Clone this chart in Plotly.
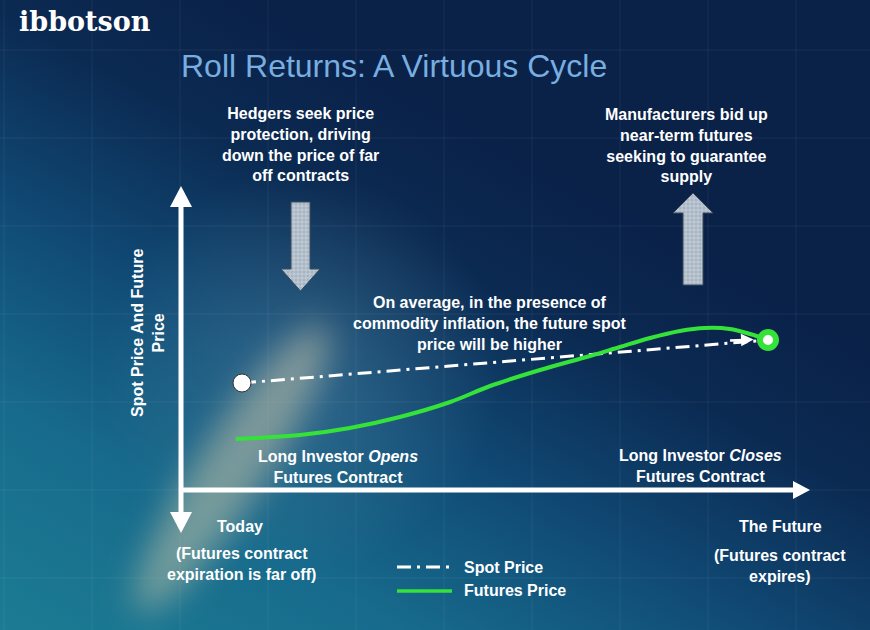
import base64
import plotly.graph_objects as go

# ---------------- data (conceptual chart) ----------------
# time in months from "Today" (0) to contract expiry (12); price in arbitrary units
spot_time = [0, 12]
spot_price = [53.5, 75]
fut_time = [-0.14, 1.32, 2.46, 3.60, 4.75, 5.66, 6.80, 7.94, 8.62, 9.31, 9.99, 10.56, 11.13, 11.59, 12]
fut_price = [25.5, 27.5, 31, 36.5, 44, 52, 60, 67, 71.5, 76, 79.5, 81, 80.5, 78, 75]
series_names = ["Spot Price", "Futures Price"]

W, H = 870, 630
X_RANGE = [-5.521, 14.327]
Y_RANGE = [-70, 245]

FONT = "Liberation Sans, Arial, sans-serif"
GREEN = "#35e23a"
WHITE = "#ffffff"

# ---------------- background (SVG data URI) ----------------
grid = "".join(
    f'<line x1="{x}" y1="0" x2="{x}" y2="630" stroke="#ffffff" stroke-opacity="0.03" stroke-width="2"/>'
    for x in range(4, 870, 88)
) + "".join(
    f'<line x1="0" y1="{y}" x2="870" y2="{y}" stroke="#ffffff" stroke-opacity="0.03" stroke-width="2"/>'
    for y in range(50, 630, 88)
)
svg = f'''<svg xmlns="http://www.w3.org/2000/svg" width="870" height="630" viewBox="0 0 870 630">
<defs>
<linearGradient id="g1" gradientUnits="userSpaceOnUse" x1="0" y1="630" x2="330" y2="40">
<stop offset="0" stop-color="#1c7c93"/>
<stop offset="0.3" stop-color="#176a8c"/>
<stop offset="0.55" stop-color="#104a75"/>
<stop offset="0.8" stop-color="#0b2a52"/>
<stop offset="1" stop-color="#0a2148"/>
</linearGradient>
<radialGradient id="g2" cx="300" cy="370" r="200" gradientUnits="userSpaceOnUse">
<stop offset="0" stop-color="#7aa8bb" stop-opacity="0.3"/>
<stop offset="1" stop-color="#7aa8bb" stop-opacity="0"/>
</radialGradient>
<filter id="b" x="-50%" y="-50%" width="200%" height="200%"><feGaussianBlur stdDeviation="16"/></filter>
</defs>
<rect width="870" height="630" fill="#0a2148"/>
<rect width="870" height="630" fill="url(#g1)"/>
<rect width="870" height="630" fill="url(#g2)"/>
{grid}
<ellipse cx="232" cy="468" rx="170" ry="34" fill="#cfc9aa" fill-opacity="0.5" filter="url(#b)" transform="rotate(-57 232 468)"/>
</svg>'''
bg_uri = "data:image/svg+xml;base64," + base64.b64encode(svg.encode()).decode()

fig = go.Figure()

# ---------------- data traces ----------------
fig.add_trace(go.Scatter(
    x=spot_time, y=spot_price, mode="lines", name=series_names[0],
    line=dict(color=WHITE, width=3, dash="14px,6px,3px,6px"), showlegend=False,
))
fig.add_trace(go.Scatter(
    x=fut_time, y=fut_price, mode="lines", name=series_names[1],
    line=dict(color=GREEN, width=4, shape="spline", smoothing=1.0), showlegend=False,
))
fig.add_trace(go.Scatter(
    x=[spot_time[0]], y=[spot_price[0]], mode="markers", showlegend=False,
    marker=dict(size=18, color=WHITE, line=dict(color="#333333", width=1)),
))
fig.add_trace(go.Scatter(
    x=[spot_time[-1]], y=[spot_price[-1]], mode="markers", showlegend=False,
    marker=dict(size=16, color=WHITE, line=dict(color=GREEN, width=6)),
))

# ---------------- hatched block arrows (pixel overlay axes) ----------------
down_arrow = ([291, 310, 310, 320, 300.5, 281, 291, 291], [202, 202, 269, 269, 291, 269, 269, 202])
up_arrow = ([683, 703, 703, 713, 693, 673, 683, 683], [285, 285, 213, 213, 193, 213, 213, 285])
for ax_, ay_ in (down_arrow, up_arrow):
    fig.add_trace(go.Scatter(
        x=ax_, y=ay_, xaxis="x2", yaxis="y2", mode="lines", fill="toself", showlegend=False,
        line=dict(color="#3a4a5c", width=1),
        fillcolor="#b4c0cc",
        fillpattern=dict(shape="+", bgcolor="#a7b4c2", fgcolor="#f0f4f8", size=4, solidity=0.35),
        hoverinfo="skip",
    ))

# ---------------- axis arrows (shapes in pixel space) ----------------
shapes = [
    dict(type="line", xref="x2", yref="y2", x0=181, y0=200, x1=181, y1=520,
         line=dict(color=WHITE, width=5)),
    dict(type="path", xref="x2", yref="y2", path="M181,186 L170,207 L192,207 Z",
         fillcolor=WHITE, line=dict(width=0)),
    dict(type="path", xref="x2", yref="y2", path="M181,533 L170,512 L192,512 Z",
         fillcolor=WHITE, line=dict(width=0)),
    dict(type="line", xref="x2", yref="y2", x0=179, y0=490, x1=796, y1=490,
         line=dict(color=WHITE, width=5)),
    dict(type="path", xref="x2", yref="y2", path="M810,490 L793,481 L793,499 Z",
         fillcolor=WHITE, line=dict(width=0)),
    # legend samples
    dict(type="line", xref="x2", yref="y2", x0=397, y0=567, x1=452, y1=567,
         line=dict(color=WHITE, width=3, dash="14px,6px,3px,6px")),
    dict(type="line", xref="x2", yref="y2", x0=397, y0=591, x1=452, y1=591,
         line=dict(color=GREEN, width=3.5)),
]

def txt(x, y, s, size=16, color=WHITE, xanchor="center", family=FONT, angle=0):
    return dict(x=x, y=y, xref="x2", yref="y2", text=s, showarrow=False, xanchor=xanchor,
                yanchor="middle", align="center", textangle=angle,
                font=dict(family=family, size=size, color=color))

annotations = [
    txt(17, 21, "<b>ibbotson</b>", size=27, xanchor="left", family="DejaVu Serif, serif"),
    txt(394, 66, "Roll Returns: A Virtuous Cycle", size=32, color="#78aee0"),
    txt(300, 144, "<b>Hedgers seek price<br>protection, driving<br>down the price of far<br>off contracts</b>"),
    txt(686, 145, "<b>Manufacturers bid up<br>near-term futures<br>seeking to guarantee<br>supply</b>"),
    txt(490, 323, "<b>On average, in the presence of<br>commodity inflation, the future spot<br>price will be higher</b>"),
    txt(338, 467, "<b>Long Investor <i>Opens</i><br>Futures Contract</b>"),
    txt(700, 466, "<b>Long Investor <i>Closes</i><br>Futures Contract</b>"),
    txt(240, 526, "<b>Today</b>"),
    txt(241, 564, "<b>(Futures contract<br>expiration is far off)</b>"),
    txt(780, 526, "<b>The Future</b>"),
    txt(780, 566, "<b>(Futures contract<br>expires)</b>"),
    txt(148, 333, "<b>Spot Price And Future<br>Price</b>", angle=-90),
    txt(462, 567, "<b>" + series_names[0] + "</b>", xanchor="left"),
    txt(462, 590, "<b>" + series_names[1] + "</b>", xanchor="left"),
    # arrowhead on the spot line
    dict(x=spot_time[-1] - 0.33, y=spot_price[-1] + 0.2, ax=spot_time[-1] - 0.9, ay=spot_price[-1] - 0.25,
         xref="x", yref="y", axref="x", ayref="y", text="", showarrow=True,
         arrowhead=2, arrowsize=1, arrowwidth=2.5, arrowcolor=WHITE),
]

fig.update_layout(
    width=W, height=H,
    margin=dict(l=0, r=0, t=0, b=0),
    paper_bgcolor="#0a2148",
    plot_bgcolor="rgba(0,0,0,0)",
    xaxis=dict(range=X_RANGE, visible=False, domain=[0, 1]),
    yaxis=dict(range=Y_RANGE, visible=False, domain=[0, 1]),
    xaxis2=dict(range=[0, W], visible=False, overlaying="x", domain=[0, 1]),
    yaxis2=dict(range=[H, 0], visible=False, overlaying="y", domain=[0, 1]),
    shapes=shapes,
    annotations=annotations,
    images=[dict(source=bg_uri, xref="paper", yref="paper", x=0, y=1, sizex=1, sizey=1,
                 xanchor="left", yanchor="top", sizing="stretch", layer="below")],
    showlegend=False,
)

fig.write_html(
    "out.html",
    config={"displayModeBar": False},
    post_script="document.body.style.margin='0';document.body.style.overflow='hidden';",
)
